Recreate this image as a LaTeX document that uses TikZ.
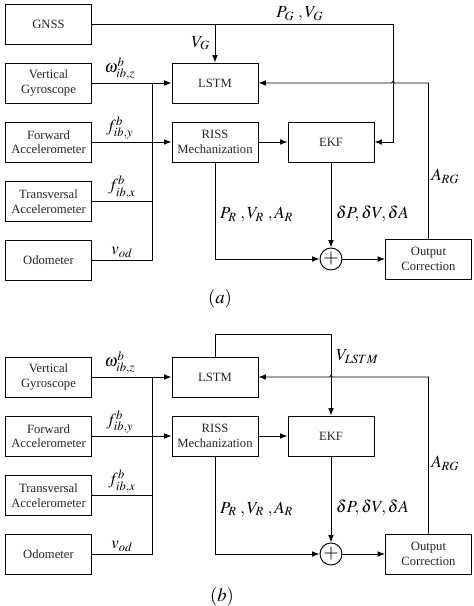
\documentclass[tikz,border=0pt]{standalone}
\usepackage{mathptmx}
\usepackage{fontspec}
\setmainfont{Liberation Serif}
\usepackage{tikz}
\usetikzlibrary{arrows.meta}

\begin{document}
\begin{tikzpicture}[x=0.03cm,y=-0.03cm,>={Latex[length=2.2mm,width=1.7mm]},line width=0.8pt,
  blk/.style={draw,minimum width=2.58cm,minimum height=1.2cm,align=center,
    font=\fontsize{10.8}{12.5}\selectfont,text=black!85},
  sig/.style={font=\fontsize{14.5}{16}\selectfont,inner sep=2pt},
  sumnode/.style={draw,circle,minimum size=0.66cm,inner sep=0pt,font=\fontsize{17}{17}\selectfont}]
  \useasboundingbox (0,0) rectangle (474,606);

  % (a) with GNSS
  \node[blk] (gnss)  at (48.5,24)   {GNSS};
  \node[blk] (gyro)  at (48.5,83)   {Vertical\\Gyroscope};
  \node[blk] (fwd)   at (48.5,142)  {Forward\\Accelerometer};
  \node[blk] (trans) at (48.5,201.5){Transversal\\Accelerometer};
  \node[blk] (odo)   at (48.5,260)  {Odometer};
  \node[blk] (lstm)  at (215,83)    {LSTM};
  \node[blk] (riss)  at (215,142)   {RISS\\Mechanization};
  \node[blk] (ekf)   at (331,142)   {EKF};
  \node[sumnode] (sum) at (331,259) {$+$};
  \node[blk] (corr)  at (428.5,259) {Output\\Correction};
  \node[sig,font=\fontsize{16}{18}\selectfont] (capa) at (220,299) {$(a)$};

  \coordinate (bus)  at (152,83);
  \coordinate (gtop) at (393,24);
  \coordinate (hopr) at (394.5,83);

  \draw[->] (gyro) -- node[sig,above,pos=0.35]{$\omega^b_{ib,z}$} (lstm);
  \draw[->] (fwd) -- node[sig,above,pos=0.35]{$f^b_{ib,y}$} (riss);
  \draw (trans.east) -- node[sig,above]{$f^b_{ib,x}$} (trans.east -| bus);
  \draw (odo.east) -- node[sig,above]{$v_{od}$} (odo.east -| bus) -- (bus);
  \draw[->] (gnss) -- node[sig,above,pos=0.69]{$P_G\;,V_G$} (gtop) |- (ekf);
  \draw[->] (lstm |- gnss) -- node[sig,left,xshift=-2pt]{$V_G$} (lstm);
  \draw[->] (corr.north) -- node[sig,right,pos=0.4]{$A_{RG}$} (corr.north |- lstm)
    -- (hopr) arc[start angle=0,end angle=180,radius=0.045cm] -- (lstm);
  \draw[->] (riss) -- (ekf);
  \draw[->] (riss) |- node[sig,right,pos=0.27,xshift=2pt]{$P_R\;,V_R\;,A_R$} (sum);
  \draw[->] (ekf) -- node[sig,right,pos=0.6,xshift=2pt]{$\delta P,\delta V,\delta A$} (sum);
  \draw[->] (sum) -- (corr);

  % (b) without GNSS
  \node[blk] (gyroB)  at (48.5,377)   {Vertical\\Gyroscope};
  \node[blk] (fwdB)   at (48.5,436)   {Forward\\Accelerometer};
  \node[blk] (transB) at (48.5,495.5) {Transversal\\Accelerometer};
  \node[blk] (odoB)   at (48.5,554)   {Odometer};
  \node[blk] (lstmB)  at (215,377)    {LSTM};
  \node[blk] (rissB)  at (215,436)    {RISS\\Mechanization};
  \node[blk] (ekfB)   at (331,436)    {EKF};
  \node[sumnode] (sumB) at (331,554)  {$+$};
  \node[blk] (corrB)  at (428.5,554)  {Output\\Correction};
  \node[sig,font=\fontsize{16}{18}\selectfont] (capb) at (222,597) {$(b)$};

  \coordinate (busB)  at (152,377);
  \coordinate (vtop)  at (331,334);
  \coordinate (hoprB) at (332.5,377);

  \draw[->] (gyroB) -- node[sig,above,pos=0.35]{$\omega^b_{ib,z}$} (lstmB);
  \draw[->] (fwdB) -- node[sig,above,pos=0.35]{$f^b_{ib,y}$} (rissB);
  \draw (transB.east) -- node[sig,above]{$f^b_{ib,x}$} (transB.east -| busB);
  \draw (odoB.east) -- node[sig,above]{$v_{od}$} (odoB.east -| busB) -- (busB);
  \draw[->] (lstmB) |- (vtop) -- node[sig,right,pos=0.28,xshift=2pt]{$V_{LSTM}$} (ekfB);
  \draw[->] (corrB.north) -- node[sig,right,pos=0.45]{$A_{RG}$} (corrB.north |- lstmB)
    -- (hoprB) arc[start angle=0,end angle=180,radius=0.045cm] -- (lstmB);
  \draw[->] (rissB) -- (ekfB);
  \draw[->] (rissB) |- node[sig,right,pos=0.27,xshift=2pt]{$P_R\;,V_R\;,A_R$} (sumB);
  \draw[->] (ekfB) -- node[sig,right,pos=0.6,xshift=2pt]{$\delta P,\delta V,\delta A$} (sumB);
  \draw[->] (sumB) -- (corrB);
\end{tikzpicture}
\end{document}
